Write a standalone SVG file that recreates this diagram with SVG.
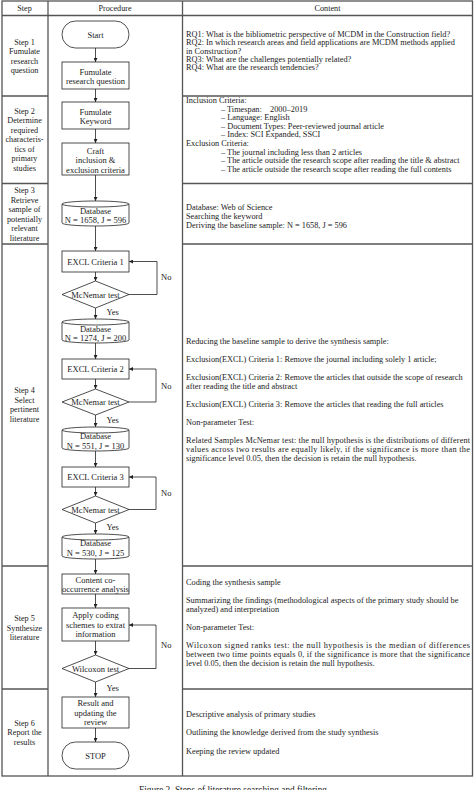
<svg xmlns="http://www.w3.org/2000/svg" width="474" height="790" viewBox="0 0 474 790">
<style>
.t{font-family:"Liberation Serif","Times New Roman",serif;fill:#1a1a1a}
.s{font-size:8.2px;text-anchor:middle}
.f{font-size:8.5px;text-anchor:middle}
.c{font-size:8.3px}
.grid{stroke:#555;stroke-width:1.3;fill:none}
.shape{fill:#fff;stroke:#222;stroke-width:0.8}
.conn{stroke:#222;stroke-width:0.8;fill:none}
.arr{marker-end:url(#ah)}
</style>
<defs>
<marker id="ah" viewBox="0 0 6 6" refX="6" refY="3" markerWidth="4" markerHeight="4" orient="auto" markerUnits="userSpaceOnUse"><path d="M0,0 L6,3 L0,6 z" fill="#222"/></marker>
</defs>
<rect width="474" height="790" fill="#fff"/>
<g id="table">
<rect class="grid" x="2" y="1" width="470.5" height="775" stroke-width="1.6"/>
<line class="grid" x1="48" y1="1" x2="48" y2="776"/>
<line class="grid" x1="182.5" y1="1" x2="182.5" y2="776"/>
<line class="grid" x1="2" y1="15.5" x2="472.5" y2="15.5"/>
<line class="grid" x1="2" y1="96" x2="48" y2="96"/>
<line class="grid" x1="182.5" y1="96" x2="472.5" y2="96"/>
<line class="grid" x1="2" y1="183.5" x2="48" y2="183.5"/>
<line class="grid" x1="182.5" y1="183.5" x2="472.5" y2="183.5"/>
<line class="grid" x1="2" y1="244" x2="48" y2="244"/>
<line class="grid" x1="182.5" y1="244" x2="472.5" y2="244"/>
<line class="grid" x1="2" y1="566" x2="48" y2="566"/>
<line class="grid" x1="182.5" y1="566" x2="472.5" y2="566"/>
<line class="grid" x1="2" y1="689" x2="48" y2="689"/>
<line class="grid" x1="182.5" y1="689" x2="472.5" y2="689"/>
</g>
<g id="headers" class="t s">
<text x="24.5" y="11">Step</text>
<text x="115" y="11">Procedure</text>
<text x="327.5" y="11">Content</text>
</g>
<g id="steps" class="t s">
<text x="24.5" y="44.5">Step 1</text><text x="24.5" y="54">Fumulate</text><text x="24.5" y="63.5">research</text><text x="24.5" y="73">question</text>
<text x="24.5" y="113.5">Step 2</text><text x="24.5" y="123">Determine</text><text x="24.5" y="132.5">required</text><text x="24.5" y="142">characteris-</text><text x="24.5" y="151.5">tics of</text><text x="24.5" y="161">primary</text><text x="24.5" y="170.5">studies</text>
<text x="24.5" y="193">Step 3</text><text x="24.5" y="202.5">Retrieve</text><text x="24.5" y="212">sample of</text><text x="24.5" y="221.5">potentially</text><text x="24.5" y="231">relevant</text><text x="24.5" y="240.5">literature</text>
<text x="24.5" y="393">Step 4</text><text x="24.5" y="402.5">Select</text><text x="24.5" y="412">pertinent</text><text x="24.5" y="421.5">literature</text>
<text x="24.5" y="621">Step 5</text><text x="24.5" y="630.5">Synthesize</text><text x="24.5" y="640">literature</text>
<text x="24.5" y="725.8">Step 6</text><text x="24.5" y="735.3">Report the</text><text x="24.5" y="744.8">results</text>
</g>
<g id="connectors" class="conn">
<path class="arr" d="M95.5,48 V62"/>
<path class="arr" d="M95.5,89 V102"/>
<path class="arr" d="M95.5,129 V143"/>
<path class="arr" d="M95.5,175 V201"/>
<path class="arr" d="M95.5,226 V251"/>
<path class="arr" d="M95.5,272 V281"/>
<path class="arr" d="M129,294.5 H157 V261.5 H129"/>
<path class="arr" d="M95.5,308 V319"/>
<path class="arr" d="M95.5,343 V359"/>
<path class="arr" d="M95.5,379 V389"/>
<path class="arr" d="M129,402 H156 V369 H129"/>
<path class="arr" d="M95.5,415 V427"/>
<path class="arr" d="M95.5,451 V467"/>
<path class="arr" d="M95.5,487 V496"/>
<path class="arr" d="M129,509.5 H156 V477 H129"/>
<path class="arr" d="M95.5,523 V534"/>
<path class="arr" d="M95.5,559 V574"/>
<path class="arr" d="M95.5,594 V608"/>
<path class="arr" d="M95.5,641 V655"/>
<path class="arr" d="M129,668.5 H156 V625 H129"/>
<path class="arr" d="M95.5,682 V697"/>
<path class="arr" d="M95.5,728 V742"/>
<g class="t f" style="text-anchor:start" stroke="none">
<text x="161" y="280">No</text>
<text x="106.5" y="314.5">Yes</text>
<text x="161" y="389">No</text>
<text x="106.5" y="423">Yes</text>
<text x="161" y="496">No</text>
<text x="106.5" y="530">Yes</text>
<text x="161" y="648">No</text>
<text x="106.5" y="691">Yes</text>
</g>
</g>
<g id="start"><rect class="shape" x="62" y="21" width="67" height="27" rx="13.5"/><text class="t f" x="95.5" y="38">Start</text></g>
<g id="fq"><rect class="shape" x="62" y="62" width="67" height="27"/><text class="t f" x="95.5" y="74.5">Fumulate</text><text class="t f" x="95.5" y="84">research question</text></g>
<g id="fk"><rect class="shape" x="62" y="102" width="67" height="27"/><text class="t f" x="95.5" y="114.5">Fumulate</text><text class="t f" x="95.5" y="124">Keyword</text></g>
<g id="craft"><rect class="shape" x="62" y="143" width="67" height="32"/><text class="t f" x="95.5" y="153.5">Craft</text><text class="t f" x="95.5" y="163">inclusion &amp;</text><text class="t f" x="95.5" y="172.5">exclusion criteria</text></g>
<g id="db1"><path class="shape" d="M62,204 V223 A33.5,3 0 0,0 129,223 V204 A33.5,3 0 0,0 62,204 A33.5,3 0 0,0 129,204"/><text class="t f" x="95.5" y="213.5">Database</text><text class="t f" x="95.5" y="223.3">N = 1658, J = 596</text></g>
<g id="ex1"><rect class="shape" x="62" y="251" width="67" height="21"/><text class="t f" x="95.5" y="264.5">EXCL Criteria 1</text></g>
<g id="mc1"><path class="shape" d="M95.5,281 L129,294.5 L95.5,308 L62,294.5 Z"/><text class="t f" x="95.5" y="297.5">McNemar test</text></g>
<g id="db2"><path class="shape" d="M62,322 V340 A33.5,3 0 0,0 129,340 V322 A33.5,3 0 0,0 62,322 A33.5,3 0 0,0 129,322"/><text class="t f" x="95.5" y="331.5">Database</text><text class="t f" x="95.5" y="341">N = 1274, J = 200</text></g>
<g id="ex2"><rect class="shape" x="62" y="359" width="67" height="20"/><text class="t f" x="95.5" y="372">EXCL Criteria 2</text></g>
<g id="mc2"><path class="shape" d="M95.5,389 L129,402 L95.5,415 L62,402 Z"/><text class="t f" x="95.5" y="405">McNemar test</text></g>
<g id="db3"><path class="shape" d="M62,430 V448 A33.5,3 0 0,0 129,448 V430 A33.5,3 0 0,0 62,430 A33.5,3 0 0,0 129,430"/><text class="t f" x="95.5" y="439">Database</text><text class="t f" x="95.5" y="448.5">N = 551, J = 130</text></g>
<g id="ex3"><rect class="shape" x="62" y="467" width="67" height="20"/><text class="t f" x="95.5" y="480">EXCL Criteria 3</text></g>
<g id="mc3"><path class="shape" d="M95.5,496 L129,509.5 L95.5,523 L62,509.5 Z"/><text class="t f" x="95.5" y="512.5">McNemar test</text></g>
<g id="db4"><path class="shape" d="M62,537 V556 A33.5,3 0 0,0 129,556 V537 A33.5,3 0 0,0 62,537 A33.5,3 0 0,0 129,537"/><text class="t f" x="95.5" y="546">Database</text><text class="t f" x="95.5" y="555.5">N = 530, J = 125</text></g>
<g id="cooc"><rect class="shape" x="62" y="574" width="67" height="20"/><text class="t f" x="95.5" y="582.5">Content co-</text><text class="t f" x="95.5" y="592">occurrence analysis</text></g>
<g id="apply"><rect class="shape" x="62" y="608" width="67" height="33"/><text class="t f" x="95.5" y="618">Apply coding</text><text class="t f" x="95.5" y="627.5">schemes to extrat</text><text class="t f" x="95.5" y="637">information</text></g>
<g id="wil"><path class="shape" d="M95.5,655 L129,668.5 L95.5,682 L62,668.5 Z"/><text class="t f" x="95.5" y="671.5">Wilcoxon test</text></g>
<g id="result"><rect class="shape" x="62" y="697" width="67" height="31"/><text class="t f" x="95.5" y="706">Result and</text><text class="t f" x="95.5" y="715.5">updating the</text><text class="t f" x="95.5" y="725">review</text></g>
<g id="stop"><rect class="shape" x="62" y="742" width="67" height="27" rx="13.5"/><text class="t f" x="95.5" y="759">STOP</text></g>
<g id="content1" class="t c">
<text x="186" y="37">RQ1: What is the bibliometric perspective of MCDM in the Construction field?</text>
<text x="186" y="45.3">RQ2: In which research areas and field applications are MCDM methods applied</text>
<text x="186" y="53.6">in Construction?</text>
<text x="186" y="62">RQ3: What are the challenges potentially related?</text>
<text x="186" y="70.3">RQ4: What are the research tendencies?</text>
</g>
<g id="content2" class="t c">
<text x="186" y="103">Inclusion Criteria:</text>
<text x="221" y="111.6">– Timespan:</text><text x="270" y="111.6">2000–2019</text>
<text x="221" y="120.2">– Language: English</text>
<text x="221" y="128.8">– Document Types: Peer-reviewed journal article</text>
<text x="221" y="137.4">– Index: SCI Expanded, SSCI</text>
<text x="186" y="146">Exclusion Criteria:</text>
<text x="221" y="154.6">– The journal including less than 2 articles</text>
<text x="221" y="163.2">– The article outside the research scope after reading the title &amp; abstract</text>
<text x="221" y="171.8">– The article outside the research scope after reading the full contents</text>
</g>
<g id="content3" class="t c">
<text x="186" y="209.5">Database: Web of Science</text>
<text x="186" y="218.5">Searching the keyword</text>
<text x="186" y="227.5">Deriving the baseline sample: N = 1658, J = 596</text>
</g>
<g id="content4" class="t c">
<text x="186" y="343.5">Reducing the baseline sample to derive the synthesis sample:</text>
<text x="186" y="361.5">Exclusion(EXCL) Criteria 1: Remove the journal including solely 1 article;</text>
<text x="186" y="379.5">Exclusion(EXCL) Criteria 2: Remove the articles that outside the scope of research</text>
<text x="186" y="388.5">after reading the title and abstract</text>
<text x="186" y="406.5">Exclusion(EXCL) Criteria 3: Remove the articles that reading the full articles</text>
<text x="186" y="424.5">Non-parameter Test:</text>
<text x="186" y="442.5" textLength="284" lengthAdjust="spacing">Related Samples McNemar test: the null hypothesis is the distributions of different</text>
<text x="186" y="451.5" textLength="284" lengthAdjust="spacing">values across two results are equally likely, if the significance is more than the</text>
<text x="186" y="460.5">significance level 0.05, then the decision is retain the null hypothesis.</text>
</g>
<g id="content5" class="t c">
<text x="186" y="584.5">Coding the synthesis sample</text>
<text x="186" y="602.5">Summarizing the findings (methodological aspects of the primary study should be</text>
<text x="186" y="611.5">analyzed) and interpretation</text>
<text x="186" y="629.5">Non-parameter Test:</text>
<text x="186" y="647.5" textLength="284" lengthAdjust="spacing">Wilcoxon signed ranks test: the null hypothesis is the median of differences</text>
<text x="186" y="656.5" textLength="284" lengthAdjust="spacing">between two time points equals 0, if the significance is more that the significance</text>
<text x="186" y="665.5">level 0.05, then the decision is retain the null hypothesis.</text>
</g>
<g id="content6" class="t c">
<text x="186" y="716.5">Descriptive analysis of primary studies</text>
<text x="186" y="735">Outlining the knowledge derived from the study synthesis</text>
<text x="186" y="754">Keeping the review updated</text>
</g>
<text class="t" x="233" y="792.5" font-size="9.3" text-anchor="middle">Figure 2. Steps of literature searching and filtering</text>
</svg>
